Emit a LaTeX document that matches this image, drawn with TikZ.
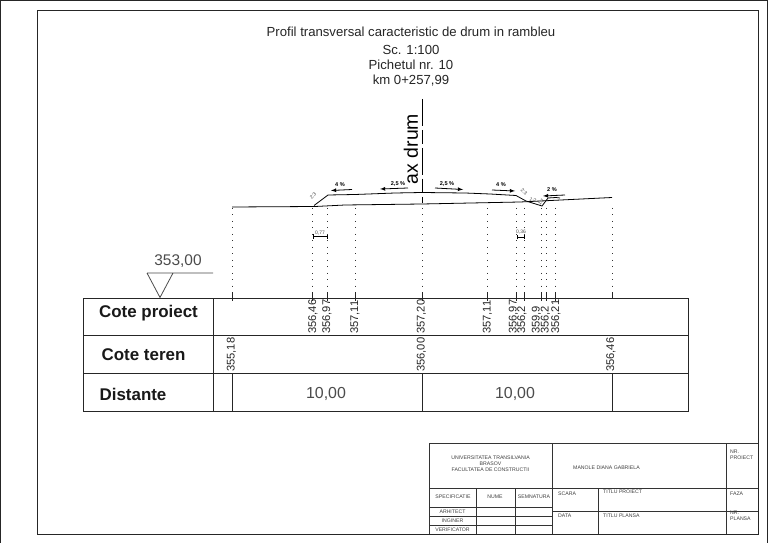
\documentclass[tikz,border=0pt]{standalone}
\usepackage{fontspec}
\setmainfont{Liberation Sans}
\usetikzlibrary{arrows.meta}
\tikzset{
  frameline/.style={line width=0.9pt,black!85},
  tablerule/.style={line width=0.8pt,black!85},
  guide/.style={line width=0.9pt,dash pattern=on 0.9pt off 5.6pt,black!80},
  tick/.style={line width=0.7pt,black!85},
  road/.style={line width=0.8pt,black},
  headtext/.style={font=\fontsize{13.2}{14}\selectfont,text=black!85,inner sep=0pt},
  levelval/.style={font=\fontsize{11.2}{12}\selectfont,rotate=90,anchor=west,inner sep=0pt,text=black!85},
  rowlabel/.style={font=\fontsize{17}{18}\selectfont\bfseries,text=black!90,inner sep=0pt},
  bigval/.style={font=\fontsize{16}{17}\selectfont,text=black!70,inner sep=0pt},
  slopeval/.style={font=\fontsize{5.6}{6}\selectfont\bfseries,inner sep=0pt},
  sideval/.style={font=\fontsize{5}{6}\selectfont,text=black!70,inner sep=0pt},
  cartouche/.style={font=\fontsize{5.2}{6.2}\selectfont,text=black!75,inner sep=0pt,align=center},
  widthmark/.style={line width=0.9pt,{Bar[width=5pt]}-{Bar[width=5pt]}}
}
\begin{document}
\begin{tikzpicture}[x=1bp,y=-1bp]
\useasboundingbox (0,0) rectangle (768,543);
\fill[white] (0,0) rectangle (768,543);
% frames
\draw[frameline] (0.5,0.5) -- (767.5,0.5) (0.5,0.5) -- (0.5,543);
\draw[frameline] (767.5,0.5) -- (767.5,543);
\draw[frameline] (37,10) rectangle (758,534);
% titles
\node[headtext] (title) at (411,32) {Profil transversal caracteristic de drum in rambleu};
\node[headtext] (scale) at (411,49.5) {Sc. 1:100};
\node[headtext] (peg) at (411,64.5) {Pichetul nr. 10};
\node[headtext] (km) at (411,80.5) {km 0+257,99};
\node[font=\fontsize{19.5}{20}\selectfont,rotate=90,inner sep=0pt] (ax) at (411,149) {ax drum};
% road axis
\draw[line width=0.8pt,dash pattern=on 27pt off 4pt on 14pt off 4pt] (422.5,99) -- (422.5,203);
% ground line
\draw[road] (232,207) -- (315,206.5) -- (345,205) -- (422,204) -- (520,202) -- (612,197.5);
% platform
\draw[road] (314,205.5) -- (328,195) -- (355,194.5) -- (395,193) -- (422,192.5) -- (465,193) -- (490,194) -- (516,195.5) -- (526,201) -- (542,206) -- (548,198) -- (556,197.5) -- (560,198);
% slopes
\draw[line width=0.8pt,-latex] (352,189.5) -- (331,190.5);
\node[slopeval] (s1) at (340,185) {4 \%};
\draw[line width=0.8pt,-latex] (408,188) -- (380,189);
\node[slopeval] (s2) at (398,183.5) {2,5 \%};
\draw[line width=0.8pt,-latex] (435,188) -- (463,189.5);
\node[slopeval] (s3) at (447,183.5) {2,5 \%};
\draw[line width=0.8pt,-latex] (492,190) -- (515,191);
\node[slopeval] (s4) at (501,185) {4 \%};
\draw[line width=0.8pt,-latex] (565,195) -- (543,196);
\node[slopeval] (s5) at (552,190) {2 \%};
\node[sideval,rotate=45] (t1) at (313,195.5) {2:3};
\node[sideval,rotate=-45] (t2) at (524,192) {2:3};
\node[sideval,rotate=-25] (t3) at (533,200) {1:2};
\node[sideval,rotate=45] (t4) at (541,201.5) {1:1};
% widths
\draw[widthmark] (312.5,236.5) -- (327.5,236.5);
\node[sideval] (w1) at (320,233) {0,77};
\draw[widthmark] (517,237) -- (525,237);
\node[sideval] (w2) at (521,232) {0,36};
% guides
\foreach \gx in {232.5,312.5,327.5,355.5,422.5,487.5,516.5,524,541.5,546.5,555.5,612}
  \draw[guide] (\gx,208) -- (\gx,292);
% ticks
\foreach \gx in {232.5,312.5,327.5,355.5,422.5,487.5,516.5,524,541.5,546.5,555.5}
  \draw[tick] (\gx,292) -- (\gx,301);
\draw[tick] (612,292) -- (612,298);
% datum
\node[font=\fontsize{15.5}{16}\selectfont,text=black!70,inner sep=0pt] (datum) at (178,261) {353,00};
\draw[line width=0.8pt,black!70] (147,273) -- (213,273) (147,273) -- (160,297.5) -- (173,273);
% table
\draw[tablerule] (83,298) rectangle (688,411);
\draw[tablerule] (83,335.5) -- (688,335.5) (83,373.5) -- (688,373.5);
\draw[tablerule] (213.5,298) -- (213.5,411);
\draw[tablerule] (232.5,373.5) -- (232.5,411) (422.5,373.5) -- (422.5,411) (612,373.5) -- (612,411);
\node[rowlabel] (rowa) at (148.5,313.5) {Cote proiect};
\node[rowlabel] (rowb) at (143.5,355) {Cote teren};
\node[rowlabel] (rowc) at (133,394.5) {Distante};
\node[bigval] (da) at (326,393.5) {10,00};
\node[bigval] (db) at (515,393.5) {10,00};
% levels
\foreach \gx/\gv in {313/{356,46},327/{356,97},355/{357,11},421.5/{357,20},487.5/{357,11},513.5/{356,97},522/{356,2},536.5/{359,9},545.5/{356,2},556/{356,21}}
  \node[levelval] at (\gx,334) {\gv};
\foreach \gx/\gv in {231.5/{355,18},421.5/{356,00},611/{356,46}}
  \node[levelval] at (\gx,372) {\gv};
% cartouche
\draw[line width=0.7pt,black!80] (429.5,443) -- (758,443) (429.5,443) -- (429.5,534);
\draw[line width=0.7pt,black!80] (429.5,488) -- (758,488);
\draw[line width=0.7pt,black!80] (552,443) -- (552,534) (726,443) -- (726,534);
\draw[line width=0.7pt,black!80] (476,488) -- (476,534) (515,488) -- (515,534) (598,488) -- (598,534);
\draw[line width=0.7pt,black!80] (429.5,507) -- (552,507) (429.5,516) -- (552,516) (429.5,525) -- (552,525);
\draw[line width=0.7pt,black!80] (552,511) -- (758,511);
\node[cartouche] (uni) at (490.5,464) {UNIVERSITATEA TRANSILVANIA\\BRASOV\\FACULTATEA DE CONSTRUCTII};
\node[cartouche,anchor=west] (who) at (573,467.5) {MANOLE DIANA GABRIELA};
\node[cartouche,align=left,anchor=north west] (nrp) at (730,449.5) {NR.\\PROIECT};
\node[cartouche] (spec) at (453,496.5) {SPECIFICATIE};
\node[cartouche] (nume) at (495,496.5) {NUME};
\node[cartouche] (semn) at (534,496.5) {SEMNATURA};
\node[cartouche] (arh) at (452.5,511.5) {ARHITECT};
\node[cartouche] (ing) at (452.5,520.5) {INGINER};
\node[cartouche] (ver) at (452.5,529.5) {VERIFICATOR};
\node[cartouche,anchor=west] (sca) at (558,493.5) {SCARA};
\node[cartouche,anchor=west] (dat) at (558,515.5) {DATA};
\node[cartouche,anchor=west] (tpr) at (603,492) {TITLU PROIECT};
\node[cartouche,anchor=west] (tpl) at (603,515.5) {TITLU PLANSA};
\node[cartouche,anchor=west] (faz) at (730,493.5) {FAZA};
\node[cartouche,align=left,anchor=north west] (nrf) at (730,510.5) {NR.\\PLANSA};
\end{tikzpicture}
\end{document}
